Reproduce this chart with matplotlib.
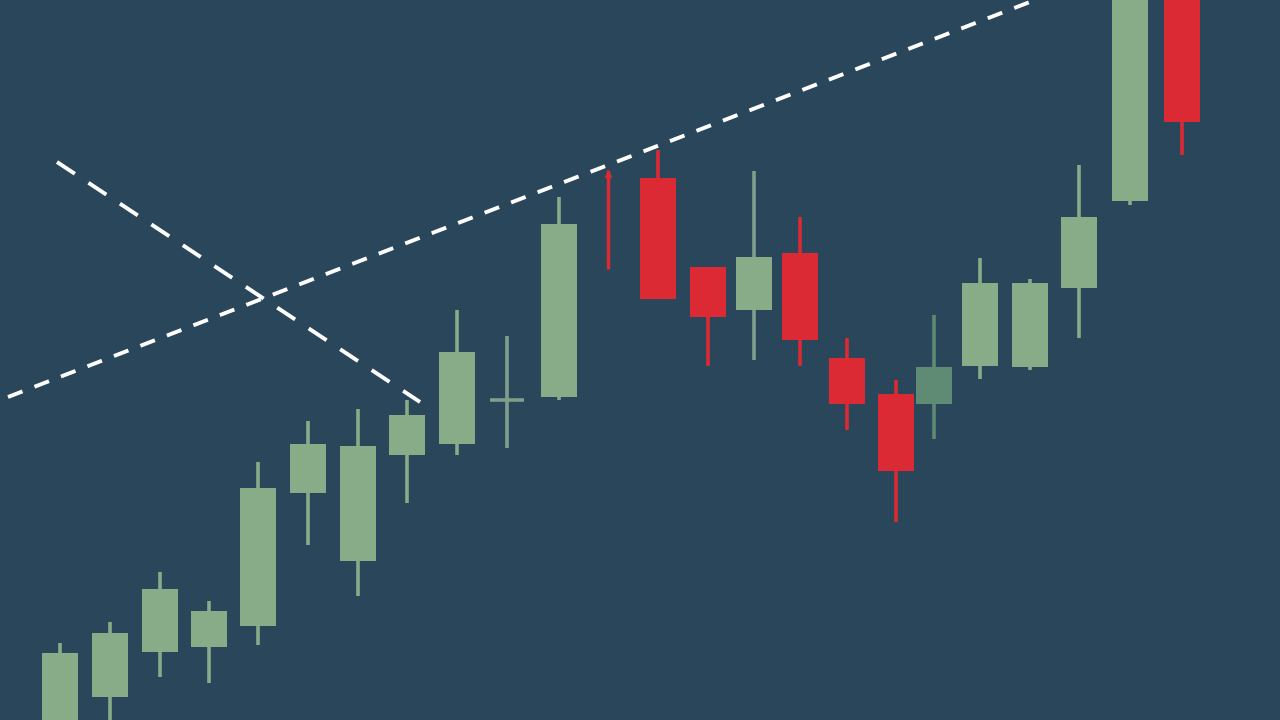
import numpy as np
import matplotlib.pyplot as plt

# candle data (time position, open, high, low, close)
t = [60, 110, 160, 209, 258, 308, 358, 407, 457, 507, 559, 608,
     658, 708, 754, 800, 847, 896, 934, 980, 1030, 1079, 1130, 1182]
opens = [-10, 23, 68, 73, 94, 227, 159, 265, 276, 320, 323, 548,
         542, 453, 410, 467, 362, 326, 316, 354, 353, 432, 519, 740]
highs = [77, 98, 148, 119, 258, 299, 311, 320, 410, 384, 523, 550,
         570, 453, 549, 503, 382, 340, 405, 462, 441, 555, 750, 750]
lows = [-20, -10, 43, 37, 75, 175, 124, 217, 265, 272, 320, 451,
        421, 354, 360, 354, 290, 198, 281, 341, 350, 382, 515, 565]
closes = [67, 87, 131, 109, 232, 276, 274, 305, 368, 320, 496, 451,
          421, 403, 463, 380, 316, 249, 353, 437, 437, 503, 740, 598]
# index of the thin spike candle and the darker green candles
spike = [11]
dark = [18]
grey_wick = [9, 14]

# dashed trend lines
trend1_x = [8, 1035]
trend1_y = [323, 720]
trend2_x = [57, 420]
trend2_y = [558, 318]

bg = '#29465a'
green = '#88ab88'
dark_green = '#5f8a74'
red = '#db2a33'

fig = plt.figure(figsize=(12.8, 7.2), dpi=100)
fig.patch.set_facecolor(bg)
ax = fig.add_axes([0, 0, 1, 1])
ax.set_facecolor(bg)
ax.set_xlim(0, 1280)
ax.set_ylim(0, 720)
ax.axis('off')

for i in range(len(t)):
    o, h, l, c = opens[i], highs[i], lows[i], closes[i]
    if c > o or (c == o):
        col = dark_green if i in dark else green
    else:
        col = red
    wick_col = '#7f9e8c' if i in grey_wick else col
    if i in spike:
        ax.vlines(t[i], l, h, color=col, lw=2.5, zorder=2)
        ax.plot(t[i], h - 4, marker='^', color=col, ms=5, zorder=3)
        continue
    ax.vlines(t[i], l, h, color=wick_col, lw=2.6, zorder=2)
    if c == o:
        ax.hlines(o, t[i] - 17, t[i] + 17, color=wick_col, lw=2.6, zorder=2)
    else:
        ax.bar(t[i], abs(c - o), bottom=min(o, c), width=36,
               color=col, zorder=3)

ax.plot(trend1_x, trend1_y, color='white', lw=2.8, dashes=(4, 3.3), zorder=4)
ax.plot(trend2_x, trend2_y, color='white', lw=2.8, dashes=(5.5, 4.2), zorder=4)

fig.savefig('out.png', dpi=100, facecolor=bg)
